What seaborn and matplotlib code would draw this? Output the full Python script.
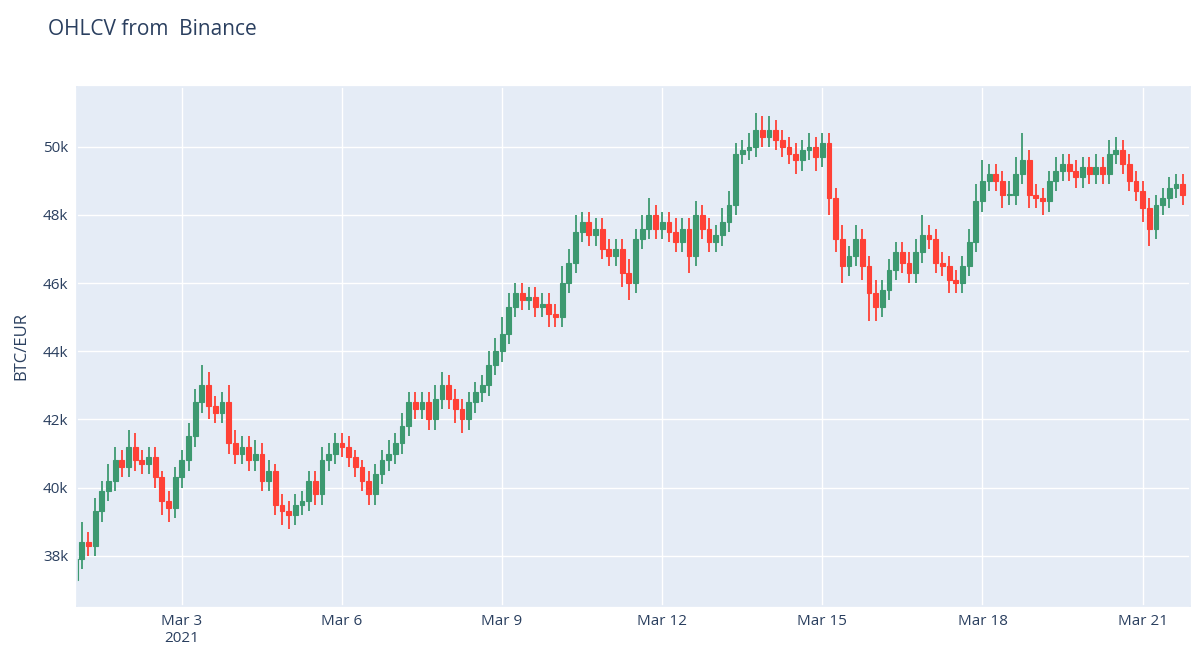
import numpy as np
import pandas as pd
import matplotlib
matplotlib.use("Agg")
import matplotlib.pyplot as plt
import matplotlib.dates as mdates
import seaborn as sns

# 3-hour candles starting 2021-03-01 00:00, prices in thousands EUR
start = "2021-03-01 00:00"
first_open = 37.3
closes = [
    37.9, 38.4, 38.3, 39.3, 39.9, 40.2, 40.8, 40.6,   # Mar 1
    41.2, 40.8, 40.7, 40.9, 40.3, 39.6, 39.4, 40.3,   # Mar 2
    40.8, 41.5, 42.5, 43.0, 42.4, 42.2, 42.5, 41.3,   # Mar 3
    41.0, 41.2, 40.8, 41.0, 40.2, 40.5, 39.5, 39.3,   # Mar 4
    39.2, 39.5, 39.6, 40.2, 39.8, 40.8, 41.0, 41.3,   # Mar 5
    41.2, 40.9, 40.6, 40.2, 39.8, 40.4, 40.8, 41.0,   # Mar 6
    41.3, 41.8, 42.5, 42.3, 42.5, 42.0, 42.6, 43.0,   # Mar 7
    42.6, 42.3, 42.0, 42.5, 42.8, 43.0, 43.6, 44.0,   # Mar 8
    44.5, 45.3, 45.7, 45.5, 45.6, 45.3, 45.4, 45.1,   # Mar 9
    45.0, 46.0, 46.6, 47.5, 47.8, 47.4, 47.6, 47.0,   # Mar 10
    46.8, 47.0, 46.3, 46.0, 47.3, 47.6, 48.0, 47.6,   # Mar 11
    47.8, 47.5, 47.2, 47.6, 46.8, 48.0, 47.6, 47.2,   # Mar 12
    47.4, 47.8, 48.3, 49.8, 49.9, 50.0, 50.5, 50.3,   # Mar 13
    50.5, 50.2, 50.0, 49.8, 49.6, 49.9, 50.0, 49.7,   # Mar 14
    50.1, 48.5, 47.3, 46.5, 46.8, 47.3, 46.5, 45.7,   # Mar 15
    45.3, 45.8, 46.4, 46.9, 46.6, 46.3, 46.9, 47.4,   # Mar 16
    47.3, 46.6, 46.5, 46.1, 46.0, 46.5, 47.2, 48.4,   # Mar 17
    49.0, 49.2, 49.0, 48.6, 48.6, 49.2, 49.6, 48.6,   # Mar 18
    48.5, 48.4, 49.0, 49.3, 49.5, 49.3, 49.1, 49.4,   # Mar 19
    49.2, 49.4, 49.2, 49.8, 49.9, 49.5, 49.0, 48.7,   # Mar 20
    48.2, 47.6, 48.3, 48.5, 48.8, 48.9, 48.6,         # Mar 21
]
hi_ext = [
    0.4, 0.6, 0.3, 0.4, 0.3, 0.5, 0.4, 0.3,
    0.5, 0.4, 0.3, 0.3, 0.3, 0.2, 0.3, 0.3,
    0.3, 0.4, 0.4, 0.6, 0.4, 0.3, 0.3, 0.5,
    0.4, 0.3, 0.3, 0.4, 0.3, 0.3, 0.2, 0.3,
    0.3, 0.3, 0.3, 0.3, 0.3, 0.4, 0.3, 0.3,
    0.3, 0.3, 0.2, 0.2, 0.3, 0.3, 0.3, 0.4,
    0.3, 0.4, 0.3, 0.3, 0.3, 0.3, 0.4, 0.4,
    0.3, 0.3, 0.3, 0.3, 0.3, 0.3, 0.4, 0.4,
    0.5, 0.4, 0.3, 0.3, 0.3, 0.3, 0.3, 0.3,
    0.3, 0.5, 0.4, 0.5, 0.3, 0.3, 0.3, 0.3,
    0.3, 0.3, 0.3, 0.4, 0.3, 0.4, 0.5, 0.3,
    0.3, 0.3, 0.4, 0.3, 0.3, 0.4, 0.3, 0.3,
    0.3, 0.4, 0.4, 0.3, 0.3, 0.4, 0.5, 0.4,
    0.4, 0.3, 0.3, 0.3, 0.3, 0.3, 0.4, 0.3,
    0.3, 0.3, 0.3, 0.4, 0.3, 0.4, 0.3, 0.3,
    0.4, 0.3, 0.3, 0.3, 0.3, 0.3, 0.4, 0.6,
    0.3, 0.3, 0.3, 0.3, 0.3, 0.3, 0.4, 0.5,
    0.6, 0.3, 0.3, 0.3, 0.4, 0.5, 0.8, 0.3,
    0.3, 0.3, 0.3, 0.4, 0.3, 0.3, 0.3, 0.3,
    0.3, 0.4, 0.3, 0.4, 0.4, 0.3, 0.3, 0.3,
    0.3, 0.3, 0.3, 0.3, 0.3, 0.3, 0.3,
]
lo_ext = [
    0.4, 0.3, 0.3, 0.3, 0.3, 0.3, 0.3, 0.3,
    0.3, 0.3, 0.3, 0.3, 0.3, 0.4, 0.4, 0.3,
    0.3, 0.3, 0.3, 0.3, 0.4, 0.3, 0.3, 0.3,
    0.3, 0.3, 0.3, 0.3, 0.3, 0.3, 0.3, 0.4,
    0.4, 0.3, 0.3, 0.3, 0.3, 0.3, 0.3, 0.3,
    0.3, 0.3, 0.3, 0.3, 0.3, 0.3, 0.3, 0.3,
    0.3, 0.3, 0.3, 0.3, 0.3, 0.3, 0.3, 0.3,
    0.3, 0.4, 0.4, 0.3, 0.3, 0.3, 0.3, 0.3,
    0.3, 0.3, 0.3, 0.3, 0.3, 0.3, 0.3, 0.4,
    0.3, 0.3, 0.3, 0.3, 0.3, 0.3, 0.3, 0.3,
    0.3, 0.3, 0.4, 0.5, 0.3, 0.3, 0.3, 0.3,
    0.3, 0.3, 0.3, 0.3, 0.5, 0.3, 0.3, 0.3,
    0.3, 0.3, 0.3, 0.3, 0.3, 0.3, 0.3, 0.3,
    0.3, 0.3, 0.3, 0.3, 0.4, 0.3, 0.3, 0.4,
    0.3, 0.5, 0.4, 0.5, 0.3, 0.3, 0.4, 0.8,
    0.4, 0.3, 0.3, 0.3, 0.3, 0.3, 0.3, 0.3,
    0.3, 0.3, 0.3, 0.4, 0.3, 0.3, 0.3, 0.3,
    0.3, 0.3, 0.3, 0.4, 0.3, 0.3, 0.3, 0.4,
    0.3, 0.4, 0.3, 0.3, 0.3, 0.3, 0.3, 0.3,
    0.3, 0.3, 0.3, 0.3, 0.3, 0.3, 0.3, 0.3,
    0.4, 0.5, 0.3, 0.3, 0.3, 0.3, 0.3,
]
tick_dates = ["2021-03-03", "2021-03-06", "2021-03-09", "2021-03-12",
              "2021-03-15", "2021-03-18", "2021-03-21"]
tick_labels = ["Mar 3\n2021", "Mar 6", "Mar 9", "Mar 12", "Mar 15", "Mar 18", "Mar 21"]
y_ticks = [38, 40, 42, 44, 46, 48, 50]

df = pd.DataFrame({"close": closes})
df["time"] = pd.date_range(start, periods=len(df), freq="3h")
df["open"] = [first_open] + closes[:-1]
df["high"] = np.maximum(df["open"], df["close"]) + np.array(hi_ext)
df["low"] = np.minimum(df["open"], df["close"]) - np.array(lo_ext)
df["x"] = mdates.date2num(df["time"])
up = df["close"] >= df["open"]

sns.set_theme(style="darkgrid", rc={
    "axes.facecolor": "#E5ECF6", "grid.color": "white", "grid.linewidth": 1.0,
    "axes.edgecolor": "#E5ECF6",
})
plt.rcParams["font.family"] = ["Open Sans", "DejaVu Sans"]

fig = plt.figure(figsize=(12, 6.48), dpi=100)
ax = fig.add_axes([0.064, 0.065, 0.928, 0.801])

green, red = "#3D9970", "#FF4136"
colors = np.where(up, green, red)
w = 0.09
ax.vlines(df["x"], df["low"], df["high"], colors=colors, linewidth=1.3)
ax.bar(df["x"], (df["close"] - df["open"]).abs().clip(lower=0.03),
       bottom=np.minimum(df["open"], df["close"]), width=w,
       color=colors, edgecolor=colors, linewidth=0.8)

ax.set_xlim(mdates.date2num(pd.Timestamp("2021-03-01 00:45")),
            mdates.date2num(pd.Timestamp("2021-03-21 21:30")))
ax.set_ylim(36.53, 51.76)
ax.set_xticks(mdates.date2num(pd.to_datetime(tick_dates)))
ax.set_xticklabels(tick_labels, color="#2a3f5f", fontsize=11)
ax.set_yticks(y_ticks)
ax.set_yticklabels([f"{v}k" for v in y_ticks], color="#2a3f5f", fontsize=11)
ax.tick_params(length=0, pad=6)
ax.set_ylabel("BTC/EUR", color="#2a3f5f", fontsize=12, labelpad=10)
fig.text(0.04, 0.955, "OHLCV from  Binance", color="#2a3f5f", fontsize=15, va="center")

fig.savefig("out.png", dpi=100)
